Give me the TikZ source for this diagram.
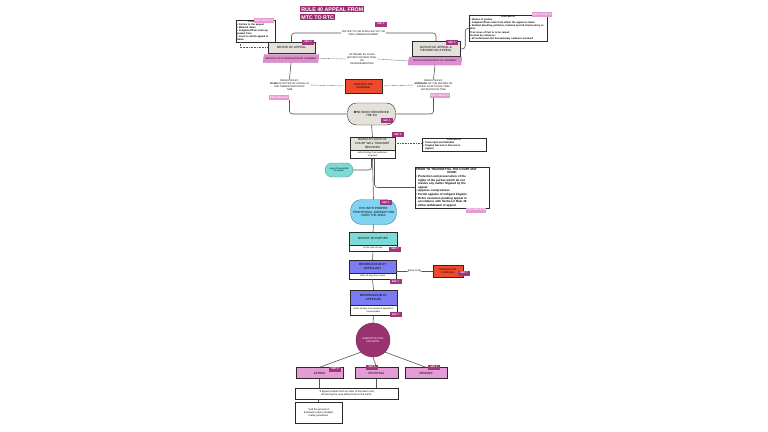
\documentclass[tikz,border=0pt]{standalone}
\usepackage{fontspec}
\setmainfont{Liberation Sans}
\usetikzlibrary{shapes.geometric,shadows}

\definecolor{titlepurple}{HTML}{9B2D72}
\definecolor{secpurple}{HTML}{A3367D}
\definecolor{secpink}{HTML}{E69BD3}
\definecolor{parapink}{HTML}{DE8ED0}
\definecolor{greyfill}{HTML}{E4E1DB}
\definecolor{redfill}{HTML}{F04A2C}
\definecolor{bluefill}{HTML}{80D3F3}
\definecolor{tealfill}{HTML}{7DDBD7}
\definecolor{memofill}{HTML}{7B7BF3}
\definecolor{circfill}{HTML}{9A3270}
\definecolor{pinkbox}{HTML}{E49BD6}
\definecolor{linegrey}{HTML}{555555}
\definecolor{boxline}{HTML}{2A2A2A}

\tikzset{
  ttl/.style={anchor=north west, fill=titlepurple, text=white, inner sep=1.2pt,
    font=\bfseries\fontsize{5.3}{6}\selectfont},
  sec/.style={fill=secpurple, text=white, inner sep=0.6pt, minimum width=12, minimum height=5,
    font=\bfseries\fontsize{2.5}{3}\selectfont},
  seclt/.style={sec, fill=secpink},
  note/.style={align=center, inner sep=0.5pt, font=\fontsize{2.4}{2.9}\selectfont},
  gbox/.style={draw=boxline, line width=0.4pt, fill=greyfill, align=center, inner sep=0.8pt,
    drop shadow={shadow xshift=0pt, shadow yshift=-0.8pt, fill=boxline, opacity=1},
    font=\fontsize{3}{3.6}\selectfont},
  sub/.style={anchor=north, draw=boxline, line width=0.3pt, fill=white, align=center, inner sep=0.4pt,
    drop shadow={shadow xshift=0pt, shadow yshift=-0.8pt, fill=boxline, opacity=1},
    font=\fontsize{2.2}{2.7}\selectfont},
  cbox/.style={anchor=north west, draw=boxline, line width=0.4pt, fill=white, align=left, inner sep=1pt,
    font=\bfseries\fontsize{2.5}{3}\selectfont},
  para/.style={trapezium, trapezium left angle=70, trapezium right angle=110, trapezium stretches=true,
    draw=parapink!80!black, line width=0.3pt, fill=parapink, minimum height=8, inner sep=0.5pt,
    font=\fontsize{2.3}{2.8}\selectfont},
  oval/.style={draw=boxline, line width=0.4pt, rounded corners=9, align=center, inner sep=0.8pt,
    font=\fontsize{3}{3.6}\selectfont},
  link/.style={draw=linegrey, line width=0.6pt, rounded corners=3},
  dotlink/.style={draw=linegrey, line width=0.4pt, dash pattern=on 1pt off 0.6pt}
}

\begin{document}
\begin{tikzpicture}[x=1pt, y=-1pt]
\useasboundingbox[fill=white] (0,0) rectangle (768,431);

\node[ttl] (t1) at (300,6) {RULE 40 APPEAL FROM};
\node[ttl] (t2) at (300,14) {MTC TO RTC};
\node[sec] (s2) at (381,24) {SEC 2};
\node[note] (appeal) at (363.5,33) {*NOTICE TO THE APPELLANT OF THE\\FINAL ORDER/JUDGMENT};

% notice of appeal
\node[gbox, minimum width=47, minimum height=11] (noa) at (291.5,47.5) {NOTICE OF APPEAL};
\node[sec] (s3a) at (308,42) {SEC 3};
\node[para, minimum width=56] (noapar) at (291,58.5) {WITHIN 15 DAYS FROM NOTICE\\OF JUDGMENT};
\node[cbox, text width=37] (lc) at (236,20) {\hfill CONTENTS:\hfill\null\\
  \textbullet~Parties to the appeal\\ \textbullet~Material dates\\
  \textbullet~Judgment/final order appealed from\\ \textbullet~Court to which appeal is taken};
\node[seclt] (s5) at (264,20.5) {SEC 5 RULE 41};

% record on appeal
\node[gbox, minimum width=48, minimum height=15] (rap) at (436,49) {NOTICE OF APPEAL \&\\RECORD ON APPEAL};
\node[sec] (s3b) at (452,42.5) {SEC 3};
\node[para, minimum width=54] (rappar) at (435,61) {30 DAYS FROM NOTICE OF JUDGMENT};
\node[cbox, text width=76] (rc) at (469,15) {\hfill CONTENTS:\hfill\null\\
  \textbullet~Names of parties\\
  \textbullet~Judgment/final order from which the appeal is taken\\
  \textbullet~Related pleading, petitions, motions and all interlocutory orders\\[1pt]
  If an issue of fact is to be raised,\\ include by reference:\\
  \textbullet~all testimonial and documentary evidence involved};
\node[seclt] (s6r) at (542,14.5) {SEC 6 RULE 41};

\node[note] (ext) at (362,59) {EXTENDED BY FILING\\MOTION FOR NEW TRIAL\\OR\\RECONSIDERATION};

% perfection
\node[note] (pl) at (289.5,85) {PERFECTED BY:\\\textbf{FILING} OF NOTICE OF APPEAL IN\\DUE TIME/EXPIRATION OF\\TIME};
\node[seclt] (s9l) at (279,97.5) {SEC 9 RULE 41};
\node[gbox, fill=redfill, minimum width=37, minimum height=14, font=\fontsize{2.6}{3.1}\selectfont] (dis) at (363.5,86) {GROUNDS FOR\\DISMISSAL};
\node[note] (pr) at (433.5,85) {PERFECTED BY:\\\textbf{APPROVAL} OF THE RECORD ON\\APPEAL FILED IN DUE TIME/\\EXPIRATION OF TIME};
\node[seclt] (s9r) at (440,95.5) {SEC 9 RULE 41};

\node[oval, fill=greyfill, minimum width=48, minimum height=22] (mtc) at (371.5,114) {\textbf{MTC} WHICH RENDERED\\THE FO};
\node[sec] (s1a) at (387,120.5) {SEC 1};

% transmittal
\node[gbox, drop shadow={opacity=0}, minimum width=45, minimum height=13] (clerk) at (372.5,143.5) {BRANCH CLERK OF\\COURT WILL TRANSMIT\\RECORDS};
\node[sub, minimum width=45, minimum height=8] (clerkb) at (clerk.south) {within 15 days from perfection\\of appeal};
\node[sec] (s6) at (398,134.5) {SEC 6};
\node[cbox, text width=62] (cc) at (422,138) {\hfill CONTENTS:\hfill\null\\
  \textbullet~Transcripts and Exhibits\\ \textbullet~Original Record or Record on\\ \hspace*{2pt}Appeal};
\node[oval, fill=tealfill, draw=tealfill!70!black, rounded corners=7, minimum width=28, minimum height=14, font=\fontsize{2.3}{2.8}\selectfont] (tp) at (339,170) {copy of transmittal\\to parties};
\node[cbox, text width=72, font=\bfseries\fontsize{2.9}{3.6}\selectfont] (pw) at (415,167) {PRIOR TO TRANSMITTAL THE COURT MAY\\ \hfill ISSUE:\hfill\null\\
  \textbullet~Protection and preservation of the\\ \hspace*{2pt}rights of the parties which do not\\ \hspace*{2pt}involve any matter litigated by the\\ \hspace*{2pt}appeal\\
  \textbullet~Approve compromises\\ \textbullet~Permit appeals of indigent litigants\\
  \textbullet~Order execution pending appeal in\\ \hspace*{2pt}accordance with Section 2 Rule 39\\
  \textbullet~Allow withdrawal of appeal};
\node[seclt] (s9p) at (476,210) {SEC 9 RULE 41};

% RTC
\node[oval, fill=bluefill, draw=bluefill!60!black, rounded corners=11, minimum width=46, minimum height=25] (rtc) at (373.5,212) {RTC WITH PROPER\\TERRITORIAL JURISDICTION\\OVER THE AREA};
\node[sec] (s1b) at (386,202.5) {SEC 1};

\node[gbox, fill=tealfill, drop shadow={opacity=0}, minimum width=48, minimum height=13] (np) at (373,238.5) {NOTICE TO PARTIES};
\node[sub, minimum width=48, minimum height=6] (npb) at (np.south) {by the clerk of court};
\node[sec] (s7a) at (395,249) {SEC 7};

\node[gbox, fill=memofill, drop shadow={opacity=0}, minimum width=47, minimum height=13] (ma) at (372.5,266.5) {MEMORANDUM BY\\APPELLANT};
\node[sub, minimum width=47, minimum height=6] (mab) at (ma.south) {within 15 days from notice};
\node[sec] (s7b) at (395.5,281.5) {SEC 7};
\node[gbox, fill=redfill, minimum width=30, minimum height=12, font=\fontsize{2.5}{3}\selectfont] (gd) at (448,271) {GROUND FOR\\DISMISSAL};
\node[sec] (s7c) at (464,273) {SEC 7};

\node[gbox, fill=memofill, drop shadow={opacity=0}, minimum width=47, minimum height=15] (me) at (373.5,297.5) {MEMORANDUM BY\\APPELLEE};
\node[sub, minimum width=47, minimum height=10] (meb) at (me.south) {within 15 days from receipt of appellant's\\memorandum};
\node[sec] (s7d) at (395.5,314.5) {SEC 7};

% decision
\node[circle, fill=circfill, draw=circfill!70!black, line width=0.4pt, minimum size=34, text=white, align=center, inner sep=0pt, font=\fontsize{2.6}{3.1}\selectfont] (sd) at (373,340) {SUBMITTED FOR\\DECISION};
\node[gbox, fill=pinkbox, minimum width=47, minimum height=11] (af) at (319.5,373) {AFFIRM};
\node[sec] (s8a) at (335,369) {SEC 8};
\node[gbox, fill=pinkbox, minimum width=43, minimum height=11] (rv) at (376.5,373) {REVERSAL};
\node[sec] (s8b) at (372,367) {SEC 8};
\node[gbox, fill=pinkbox, minimum width=42, minimum height=11] (rm) at (426,373) {REMAND};
\node[sec] (s8c) at (434,367) {SEC 8};
\node[gbox, fill=white, minimum width=103, minimum height=11, font=\fontsize{2.5}{3}\selectfont] (if1) at (346.5,393.5) {*If appeal is taken from an order of the lower court\\dismissing the case without trial on the merits};
\node[gbox, fill=white, minimum width=47, minimum height=21, font=\fontsize{2.5}{3}\selectfont] (if2) at (318.5,412.5) {*and the ground of\\dismissal is lack of subject\\matter jurisdiction};

% connectors
\draw[link] (appeal.west) -| (noa.north);
\draw[link] (appeal.east) -| (rap.north);
\draw[dotlink] ([xshift=4]lc.south west) |- (noa.west);
\draw[link] (rap.east) -- ++(5,0) |- (rc.west);
\draw[dotlink] (noapar.east) -- (ext.west);
\draw[dotlink] (ext.east) -- (rappar.west);
\draw[link] (noapar.south) -- (pl.north);
\draw[link] (rappar.south) -- (pr.north);
\draw[dotlink] (pl.east) -- (dis.west);
\draw[dotlink] (dis.east) -- (pr.west);
\draw[link] (s9l.south -| pl.south) |- (mtc.west);
\draw[link] (s9r.south -| pr.south) |- (mtc.east);
\draw[link] (mtc.south) -- (clerk.north);
\draw[dotlink] (clerk.east) -- (cc.west |- clerk.east);
\draw[link] (clerkb.south) -- (rtc.north);
\draw[link] ([xshift=-1]clerkb.south) |- (tp.east);
\draw[link] ([xshift=2]clerkb.south) |- (pw.west);
\draw[link] (rtc.south) -- (np.north);
\draw[link] (npb.south) -- (ma.north);
\draw[link] (gd.west -| ma.east) -- node[note, fill=white] {failure to file} (gd.west);
\draw[link] (mab.south) -- (me.north);
\draw[link] (meb.south) -- (sd.north);
\draw[link] (sd.south west) -- (af.north);
\draw[link] (sd.south) -- (rv.north);
\draw[link] (sd.south east) -- (rm.north);
\draw[link] (af.south) -- (af.south |- if1.north);
\draw[link] (rv.south) -- (rv.south |- if1.north);
\draw[link] (if1.south -| if2.north) -- (if2.north);
\end{tikzpicture}
\end{document}
